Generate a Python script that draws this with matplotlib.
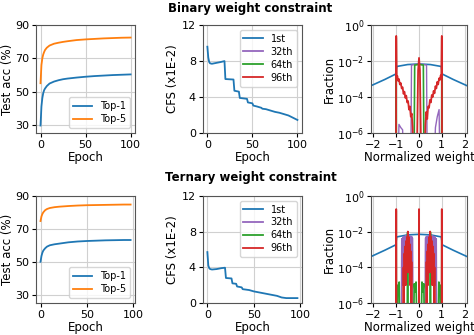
import numpy as np
import matplotlib
matplotlib.use("Agg")
import matplotlib.pyplot as plt

# ---------------- data ----------------
# Test accuracy (binary)
acc_b_epoch = [0, 1, 2, 3, 4, 5, 7, 10, 15, 20, 25, 30, 40, 50, 60, 70, 80, 90, 100]
acc_b_top1 = [29.5, 41, 46, 49, 50.8, 51.8, 53.3, 54.8, 56.0, 56.8, 57.4, 57.8, 58.4, 58.9, 59.3, 59.6, 59.9, 60.1, 60.3]
acc_b_top5 = [55, 66, 70, 72.3, 73.8, 75, 76.4, 77.7, 78.8, 79.4, 79.9, 80.3, 81.0, 81.4, 81.7, 82.0, 82.2, 82.4, 82.5]

# Test accuracy (ternary)
acc_t_epoch = [0, 1, 2, 3, 5, 7, 10, 15, 20, 30, 40, 50, 60, 70, 80, 90, 97]
acc_t_top1 = [50, 53.5, 55.5, 56.8, 58.2, 59.2, 60.0, 60.6, 61.0, 61.8, 62.3, 62.6, 62.8, 63.0, 63.1, 63.2, 63.2]
acc_t_top5 = [74.7, 77.5, 79, 80, 81.3, 82, 82.6, 83.1, 83.4, 83.8, 84.1, 84.3, 84.4, 84.5, 84.6, 84.7, 84.7]

# CFS (x1E-2), binary
cfs_b_epoch = [0, 1, 2, 3, 5, 10, 15, 19, 20, 29, 30, 35, 36, 44, 45, 50, 51, 55, 60, 61, 65, 70, 75, 80, 85, 90, 95, 100]
cfs_b_1st = [9.6, 8.4, 7.9, 7.75, 7.7, 7.8, 7.9, 8.0, 6.0, 5.95, 4.7, 4.6, 3.9, 3.8, 3.4, 3.3, 3.05, 2.95, 2.8, 2.7, 2.65, 2.5, 2.35, 2.25, 2.1, 1.95, 1.7, 1.45]

# CFS (x1E-2), ternary
cfs_t_epoch = [0, 1, 2, 3, 5, 10, 15, 19, 20, 26, 27, 31, 32, 37, 38, 45, 50, 55, 60, 65, 70, 75, 80, 85, 90, 97]
cfs_t_1st = [5.7, 4.2, 3.9, 3.8, 3.75, 3.8, 3.9, 3.95, 2.8, 2.75, 2.2, 2.15, 1.85, 1.75, 1.55, 1.45, 1.3, 1.2, 1.1, 1.0, 0.9, 0.8, 0.62, 0.55, 0.55, 0.55]

cfs_labels = ["1st", "32th", "64th", "96th"]

# Weight distributions, binary
hb_blue_x = [-2.1, -1.5, -1.02, -0.98, -0.5, 0.0, 0.5, 0.98, 1.02, 1.5, 2.1]
hb_blue_y = [4.3e-4, 9.5e-4, 1.9e-3, 5.0e-3, 6.4e-3, 6.9e-3, 6.4e-3, 5.0e-3, 1.9e-3, 9.5e-4, 4.3e-4]

hb_purple_x = [-0.92, -0.88, -0.8, -0.72, -0.66, -0.36, -0.33, -0.2, 0.0, 0.2, 0.33, 0.36, 0.66, 0.72, 0.8, 0.88, 0.92]
hb_purple_y = [1e-8, 3e-6, 2e-6, 1.5e-6, 1e-8, 1e-8, 6e-3, 6.5e-3, 6.8e-3, 6.5e-3, 6e-3, 1e-8, 1e-8, 2e-6, 8e-6, 2e-5, 1e-8]

hb_green_x = [-1.01, -1.0, -0.99, -0.22, -0.19, 0.0, 0.19, 0.22, 0.99, 1.0, 1.01]
hb_green_y = [1e-8, 0.2, 1e-8, 1e-8, 6e-3, 6.5e-3, 6e-3, 1e-8, 1e-8, 0.2, 1e-8]

hb_red_x = [-1.01, -1.0, -0.98, -0.95, -0.92, -0.88, -0.84, -0.80, -0.76, -0.72, -0.68, -0.64, -0.60,
            -0.56, -0.52, -0.48, -0.44, -0.40, -0.36, -0.32, -0.28, -0.24,
            -0.1, -0.04, 0.0, 0.04, 0.1,
            0.24, 0.28, 0.32, 0.36, 0.40, 0.44, 0.48, 0.52, 0.56, 0.60, 0.64, 0.68, 0.72, 0.76,
            0.80, 0.84, 0.88, 0.92, 0.95, 0.98, 1.0, 1.01]
hb_red_y = [1e-8, 0.25, 1.2e-3, 1.5e-3, 8e-4, 1.0e-3, 5e-4, 6e-4, 3e-4, 3.5e-4, 1.5e-4, 2e-4, 9e-5,
            1.2e-4, 5e-5, 6e-5, 2e-5, 3e-5, 8e-6, 1.2e-5, 2e-6, 1e-8,
            1e-8, 3e-3, 1.5e-2, 3e-3, 1e-8,
            1e-8, 3e-6, 1.5e-5, 6e-6, 3e-5, 2.5e-5, 7e-5, 5e-5, 1.3e-4, 1e-4, 2.2e-4, 1.6e-4, 4e-4, 3e-4,
            7e-4, 5e-4, 1.1e-3, 9e-4, 1.6e-3, 1.2e-3, 0.25, 1e-8]

# Weight distributions, ternary
ht_blue_x = [-2.1, -1.5, -1.02, -0.98, -0.5, 0.0, 0.5, 0.98, 1.02, 1.5, 2.1]
ht_blue_y = [4.0e-4, 9.0e-4, 1.8e-3, 5.0e-3, 6.5e-3, 7.0e-3, 6.5e-3, 5.0e-3, 1.8e-3, 9.0e-4, 4.0e-4]

ht_purple_x = [-0.78, -0.76, -0.73, -0.70, -0.67, -0.64, -0.61, -0.58, -0.55, -0.52, -0.50, -0.48, -0.45,
               -0.42, -0.39, -0.36, -0.33, -0.30, -0.28, -0.26,
               0.26, 0.28, 0.30, 0.33, 0.36, 0.39, 0.42, 0.45, 0.48, 0.50, 0.52, 0.55, 0.58, 0.61,
               0.64, 0.67, 0.70, 0.73, 0.76, 0.78]
ht_purple_y = [1e-8, 4e-3, 1e-5, 5e-3, 3e-5, 5.5e-3, 1e-4, 6e-3, 2e-4, 6.5e-3, 7e-3, 6.5e-3, 2e-4,
               6e-3, 1e-4, 5.5e-3, 3e-5, 5e-3, 4e-3, 1e-8,
               1e-8, 4e-3, 5e-3, 3e-5, 5.5e-3, 1e-4, 6e-3, 2e-4, 6.5e-3, 7e-3, 6.5e-3, 2e-4, 6e-3, 1e-4,
               5.5e-3, 3e-5, 5e-3, 1e-5, 4e-3, 1e-8]

ht_green_x = [-1.01, -1.0, -0.99, -0.96, -0.93, -0.9, -0.87, -0.84, -0.52, -0.5, -0.48,
              -0.24, -0.21, -0.17, -0.13, -0.09, -0.01, 0.0, 0.01, 0.09, 0.13, 0.17, 0.21, 0.24,
              0.48, 0.5, 0.52, 0.84, 0.87, 0.9, 0.93, 0.96, 0.99, 1.0, 1.01]
ht_green_y = [1e-8, 0.15, 1e-8, 1e-8, 1e-5, 3e-6, 1.5e-5, 1e-8, 1e-8, 9e-3, 1e-8,
              1e-8, 1.2e-5, 4e-6, 1.5e-5, 1e-8, 1e-8, 0.15, 1e-8, 1e-8, 1.5e-5, 4e-6, 1.2e-5, 1e-8,
              1e-8, 9e-3, 1e-8, 1e-8, 1.5e-5, 3e-6, 1e-5, 1e-8, 1e-8, 0.15, 1e-8]

ht_red_x = [-1.01, -1.0, -0.99,
            -0.72, -0.68, -0.66, -0.64, -0.62, -0.60, -0.58, -0.56, -0.54, -0.52, -0.50, -0.49, -0.47,
            -0.45, -0.43, -0.41, -0.39, -0.37, -0.35, -0.33, -0.30,
            -0.01, 0.0, 0.01,
            0.30, 0.33, 0.35, 0.37, 0.39, 0.41, 0.43, 0.45, 0.47, 0.49, 0.50, 0.52, 0.54, 0.56, 0.58,
            0.60, 0.62, 0.64, 0.66, 0.68, 0.72,
            0.99, 1.0, 1.01]
ht_red_y = [1e-8, 0.18, 1e-8,
            1e-8, 1e-4, 1e-6, 6e-4, 1e-5, 1.5e-3, 1e-5, 3e-3, 5e-5, 5e-3, 1e-4, 1e-2, 2e-4,
            5e-3, 5e-5, 2e-3, 1e-5, 8e-4, 1e-6, 2e-4, 1e-8,
            1e-8, 0.18, 1e-8,
            1e-8, 2e-4, 1e-6, 8e-4, 1e-5, 2e-3, 5e-5, 5e-3, 2e-4, 1e-2, 1e-4, 5e-3, 5e-5, 3e-3, 1e-5,
            1.5e-3, 1e-5, 6e-4, 1e-6, 1e-4, 1e-8,
            1e-8, 0.18, 1e-8]

# ---------------- figure ----------------
plt.rcParams['font.family'] = ['DejaVu Sans']
TICK = 8
LAB = 8.5
LEG = 7

fig = plt.figure(figsize=(4.74, 3.35), dpi=100)

cols = [(0.076, 0.209), (0.428, 0.209), (0.783, 0.202)]
rows = [(0.603, 0.322), (0.0955, 0.320)]

def make_ax(r, c):
    l, w = cols[c]
    b, h = rows[r]
    ax = fig.add_axes([l, b, w, h])
    ax.grid(True, color='#d0d0d0', linewidth=0.8)
    ax.set_axisbelow(True)
    ax.tick_params(labelsize=TICK, length=3, pad=2)
    for s in ax.spines.values():
        s.set_color('#555555')
        s.set_linewidth(0.8)
    return ax

C_BLUE, C_ORANGE, C_GREEN, C_RED, C_PURPLE = '#1f77b4', '#ff7f0e', '#2ca02c', '#d62728', '#9467bd'

def acc_panel(ax, ep, t1, t5):
    ax.plot(ep, t1, color=C_BLUE, lw=1.3, label='Top-1')
    ax.plot(ep, t5, color=C_ORANGE, lw=1.3, label='Top-5')
    ax.set_ylim(25, 90)
    ax.set_yticks([30, 50, 70, 90])
    ax.set_xticks([0, 50, 100])
    ax.set_xlabel('Epoch', fontsize=LAB, labelpad=1)
    ax.set_ylabel('Test acc (%)', fontsize=LAB, labelpad=1)
    ax.legend(loc='lower right', fontsize=LEG, handlelength=2.0, borderpad=0.4,
              labelspacing=0.3, handletextpad=0.8, framealpha=0.8)

def cfs_panel(ax, ep, vals):
    ax.plot(ep, vals, color=C_BLUE, lw=1.3, label=cfs_labels[0], zorder=3)
    for lab, col in zip(cfs_labels[1:], [C_PURPLE, C_GREEN, C_RED]):
        ax.plot([], [], color=col, lw=1.3, label=lab)
    ax.set_ylim(0, 12)
    ax.set_yticks([0, 4, 8, 12])
    ax.set_xticks([0, 50, 100])
    ax.set_xlabel('Epoch', fontsize=LAB, labelpad=1)
    ax.set_ylabel('CFS (x1E-2)', fontsize=LAB, labelpad=2)
    ax.legend(loc='upper right', fontsize=LEG, handlelength=2.0, borderpad=0.4,
              labelspacing=0.3, handletextpad=0.8, framealpha=0.8)

def hist_panel(ax, series):
    for (x, y, col, lw) in series:
        ax.plot(x, y, color=col, lw=lw)
    ax.set_yscale('log')
    ax.set_ylim(1e-6, 1)
    ax.set_xlim(-2.1, 2.1)
    ax.set_yticks([1e-6, 1e-4, 1e-2, 1])
    ax.minorticks_off()
    ax.set_xticks([-2, -1, 0, 1, 2])
    ax.set_xlabel('Normalized weight', fontsize=LAB, labelpad=1)
    ax.set_ylabel('Fraction', fontsize=LAB, labelpad=1)

ax = make_ax(0, 0); acc_panel(ax, acc_b_epoch, acc_b_top1, acc_b_top5)
ax = make_ax(0, 1); cfs_panel(ax, cfs_b_epoch, cfs_b_1st)
ax = make_ax(0, 2)
hist_panel(ax, [(hb_blue_x, hb_blue_y, C_BLUE, 1.2),
                (hb_purple_x, hb_purple_y, C_PURPLE, 1.0),
                (hb_green_x, hb_green_y, C_GREEN, 1.2),
                (hb_red_x, hb_red_y, C_RED, 1.3)])

ax = make_ax(1, 0); acc_panel(ax, acc_t_epoch, acc_t_top1, acc_t_top5)
ax = make_ax(1, 1); cfs_panel(ax, cfs_t_epoch, cfs_t_1st)
ax = make_ax(1, 2)
hist_panel(ax, [(ht_blue_x, ht_blue_y, C_BLUE, 1.2),
                (ht_purple_x, ht_purple_y, C_PURPLE, 1.0),
                (ht_green_x, ht_green_y, C_GREEN, 1.2),
                (ht_red_x, ht_red_y, C_RED, 1.3)])

fig.text(0.528, 0.976, 'Binary weight constraint', ha='center', va='center',
         fontsize=8.5, fontweight='bold')
fig.text(0.530, 0.470, 'Ternary weight constraint', ha='center', va='center',
         fontsize=8.5, fontweight='bold')

fig.savefig('out.png', dpi=100)
